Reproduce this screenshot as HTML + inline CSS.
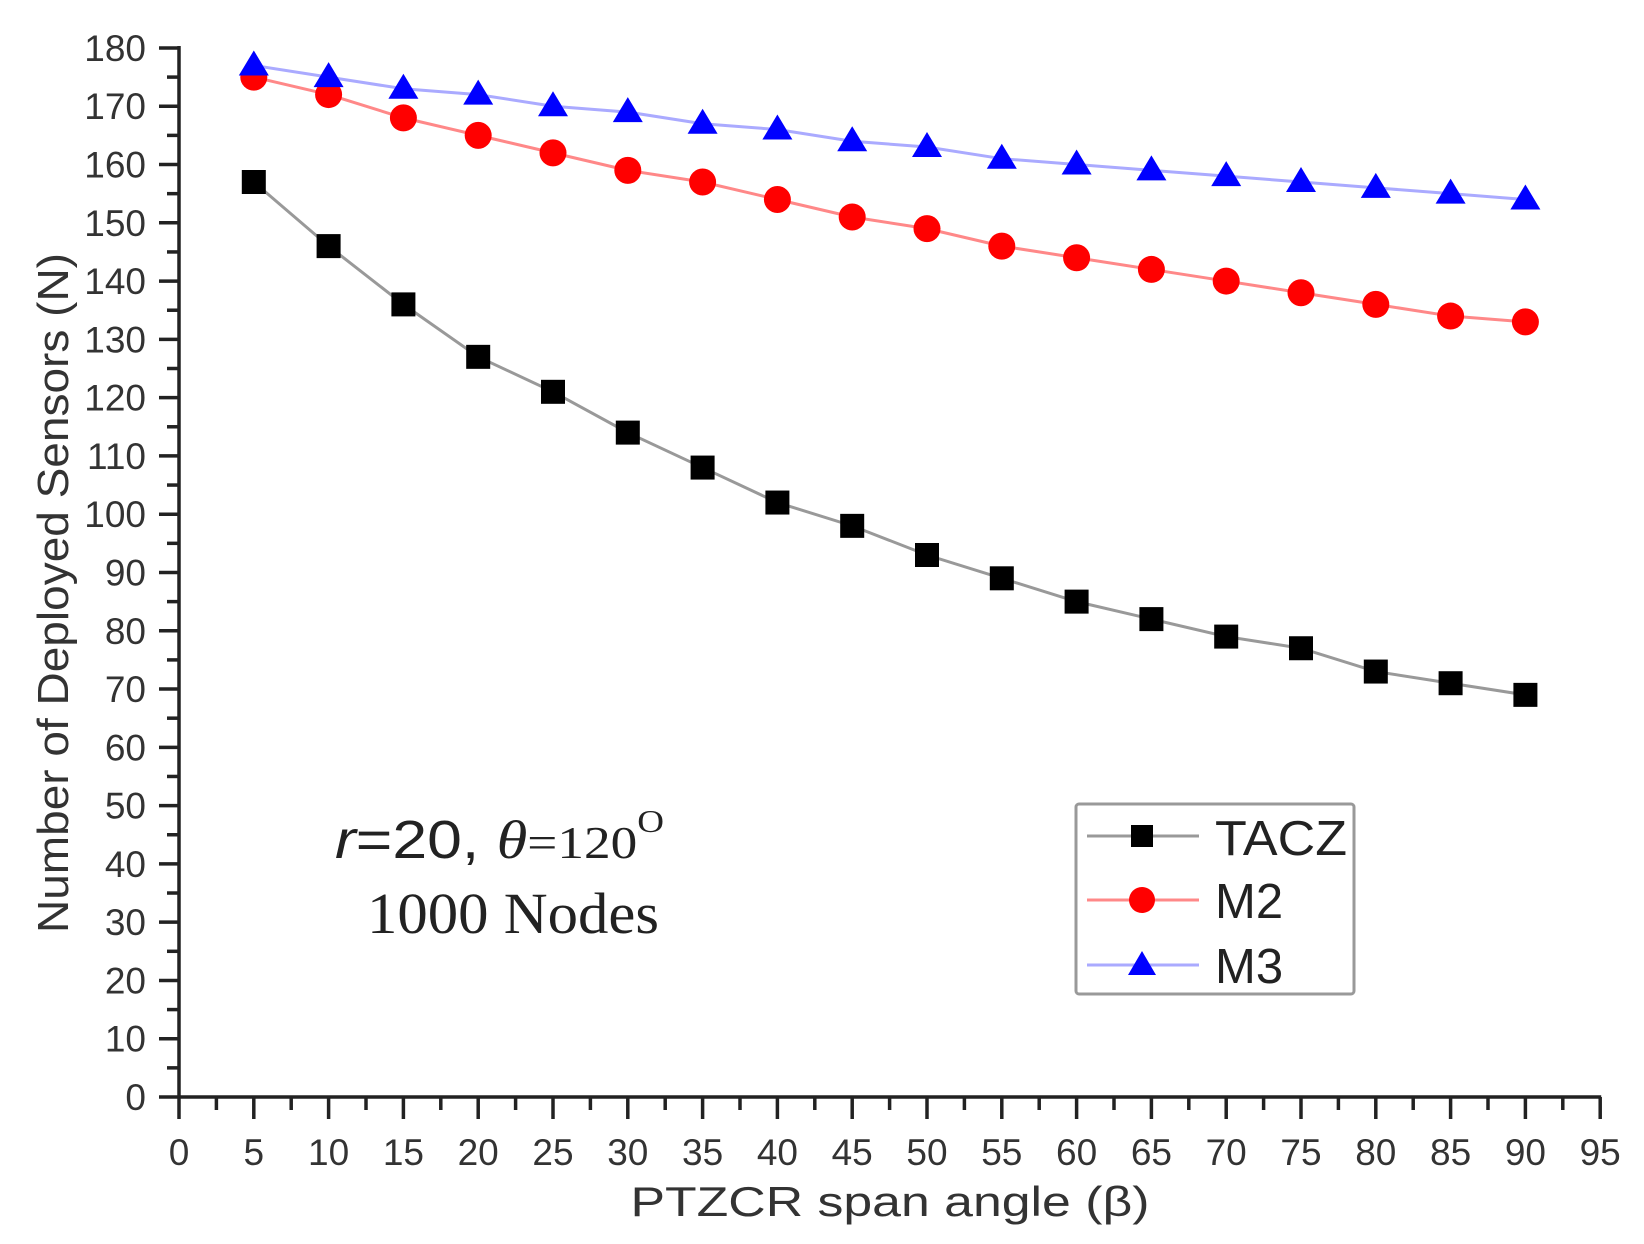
<!DOCTYPE html>
<html><head><meta charset="utf-8"><style>body{margin:0;background:#fff}svg{display:block}</style></head>
<body>
<svg width="1644" height="1244" viewBox="0 0 1644 1244" xmlns="http://www.w3.org/2000/svg" font-family="Liberation Sans, sans-serif">
<g id="axes" stroke="#222" stroke-width="3.5" fill="none"></g>
<g id="ticks" font-size="37" fill="#333"></g>
<g id="series"></g>
<text x="890" y="1216" font-size="42" fill="#333" text-anchor="middle" textLength="519" lengthAdjust="spacingAndGlyphs">PTZCR span angle (β)</text>
<text transform="translate(68,593) rotate(-90)" font-size="44" fill="#333" text-anchor="middle" textLength="680" lengthAdjust="spacingAndGlyphs">Number of Deployed Sensors (N)</text>
<text x="335" y="858" font-size="54" fill="#222" textLength="329" lengthAdjust="spacingAndGlyphs"><tspan font-style="italic">r</tspan>=20, <tspan font-family="Liberation Serif, serif" font-style="italic">θ</tspan><tspan font-family="Liberation Serif, serif" font-size="46">=120</tspan><tspan font-family="Liberation Serif, serif" font-size="32" dy="-26">O</tspan></text>
<text x="367" y="933" font-size="58" fill="#222" font-family="Liberation Serif, serif" textLength="292" lengthAdjust="spacingAndGlyphs">1000 Nodes</text>
<rect x="1076" y="804" width="278" height="190" fill="#fff" stroke="#999" stroke-width="3" rx="3"/>
<line x1="1087" y1="836" x2="1199" y2="836" stroke="#999" stroke-width="3"/>
<rect x="1131" y="825" width="22" height="22" fill="#000"/>
<line x1="1087" y1="900" x2="1199" y2="900" stroke="#f88" stroke-width="3"/>
<circle cx="1142" cy="900" r="13" fill="#f00"/>
<line x1="1087" y1="965" x2="1199" y2="965" stroke="#aaf" stroke-width="3"/>
<polygon points="1142,951 1156,975 1128,975" fill="#00f"/>
<text x="1215" y="855" font-size="49" fill="#222" textLength="132" lengthAdjust="spacingAndGlyphs">TACZ</text>
<text x="1215" y="918" font-size="49" fill="#222">M2</text>
<text x="1215" y="983" font-size="49" fill="#222">M3</text>
</svg>
<script>
const X0=179,XS=14.96,Y0=1097,YS=5.828;
const X=v=>X0+v*XS, Y=v=>Y0-v*YS;
const ns="http://www.w3.org/2000/svg";
function el(p,t,a,txt){const e=document.createElementNS(ns,t);for(const k in a)e.setAttribute(k,a[k]);if(txt!==undefined)e.textContent=txt;p.appendChild(e);return e;}
const ax=document.getElementById('axes'),tk=document.getElementById('ticks'),se=document.getElementById('series');
el(ax,'line',{x1:X0,y1:Y(180)-2,x2:X0,y2:Y0});
el(ax,'line',{x1:X0,y1:Y0,x2:X(95)+1,y2:Y0});
for(let v=0;v<=180;v+=5){const maj=v%10==0;el(ax,'line',{x1:X0-(maj?20:12),y1:Y(v),x2:X0,y2:Y(v)});
 if(maj)el(tk,'text',{x:146,y:Y(v)+13,'text-anchor':'end'},v);}
for(let v=0;v<=95;v+=2.5){const maj=v%5==0;el(ax,'line',{x1:X(v),y1:Y0,x2:X(v),y2:Y0+(maj?22:13)});
 if(maj)el(tk,'text',{x:X(v),y:1165,'text-anchor':'middle'},v);}
const xs=[];for(let i=5;i<=90;i+=5)xs.push(i);
const T=[157,146,136,127,121,114,108,102,98,93,89,85,82,79,77,73,71,69];
const M2=[175,172,168,165,162,159,157,154,151,149,146,144,142,140,138,136,134,133];
const M3=[177,175,173,172,170,169,167,166,164,163,161,160,159,158,157,156,155,154];
function line(d,c){el(se,'polyline',{points:d.map((v,i)=>X(xs[i])+','+Y(v)).join(' '),fill:'none',stroke:c,'stroke-width':3});}
line(T,'#999');line(M2,'#f88');line(M3,'#aaf');
T.forEach((v,i)=>el(se,'rect',{x:X(xs[i])-12,y:Y(v)-12,width:24,height:24,fill:'#000'}));
M2.forEach((v,i)=>el(se,'circle',{cx:X(xs[i]),cy:Y(v),r:13.5,fill:'#f00'}));
M3.forEach((v,i)=>{const x=X(xs[i]),y=Y(v);el(se,'polygon',{points:`${x},${y-15} ${x+15},${y+10} ${x-15},${y+10}`,fill:'#00f'});});
</script>
</body></html>
